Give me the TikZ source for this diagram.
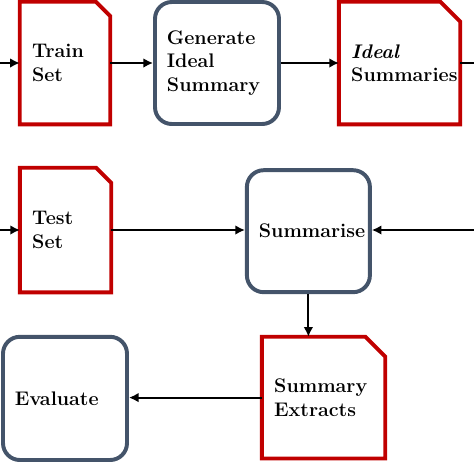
\documentclass[tikz,border=0pt]{standalone}
\usepackage{tikz}
\usetikzlibrary{arrows.meta}

\definecolor{docred}{HTML}{C00000}
\definecolor{procgray}{HTML}{44546A}

\begin{document}
\begin{tikzpicture}[scale=1,
        doc/.style={rectangle, inner xsep=0.3cm, inner ysep=0pt, align=left,
            font=\fontsize{14}{16.5}\selectfont\bfseries},
        proc/.style={rectangle, rounded corners=0.42cm, draw=procgray, line width=2.8pt,
            inner xsep=0.3cm, inner ysep=0pt, align=left,
            font=\fontsize{14}{16.5}\selectfont\bfseries},
        flecha/.style={-{Latex[length=0.24cm, width=0.24cm]}, line width=1.3pt}]

        \useasboundingbox (0,0) rectangle (11.85,-11.85);

        % Documentos
        \node[doc, text width=1.65cm, minimum width=2.25cm, minimum height=3.05cm] (train) at (1.625,-1.575) {Train\\Set};
        \node[doc, text width=2.42cm, minimum width=3.02cm, minimum height=3.05cm] (ideal) at (9.99,-1.575) {\textit{Ideal}\\Summaries};
        \node[doc, text width=1.67cm, minimum width=2.27cm, minimum height=3.1cm] (test) at (1.64,-5.75) {Test\\Set};
        \node[doc, text width=2.47cm, minimum width=3.07cm, minimum height=3.03cm] (extr) at (8.09,-9.94) {Summary\\Extracts};

        % Contorno con esquina cortada
        \foreach \n/\c in {train/0.36, ideal/0.5, test/0.38, extr/0.5}
            \draw[docred, line width=2.8pt] (\n.south west) -- (\n.north west)
                -- ([xshift=-\c cm]\n.north east) -- ([yshift=-\c cm]\n.north east)
                -- (\n.south east) -- cycle;

        % Procesos
        \node[proc, text width=2.5cm, minimum width=3.1cm, minimum height=3.05cm] (gen) at (5.425,-1.575) {Generate\\Ideal\\Summary};
        \node[proc, text width=2.475cm, minimum width=3.075cm, minimum height=3.05cm] (summ) at (7.71,-5.78) {Summarise};
        \node[proc, text width=2.5cm, minimum width=3.1cm, minimum height=3.08cm] (eval) at (1.625,-9.96) {Evaluate};

        % Extremos libres
        \coordinate (inA) at (0,-1.575);
        \coordinate (outA) at (11.85,-1.575);
        \coordinate (inB) at (0,-5.75);
        \coordinate (inC) at (11.85,-5.75);

        % Flechas
        \draw[flecha] (inA) -- (train);
        \draw[flecha] (train) -- (gen);
        \draw[flecha] (gen) -- (ideal);
        \draw[line width=1.3pt] (ideal) -- (outA);
        \draw[flecha] (inB) -- (test);
        \draw[flecha] (test.east) -- (test.east -| summ.west);
        \draw[flecha] (inC) -- (inC -| summ.east);
        \draw[flecha] (summ.south) -- (summ.south |- extr.north);
        \draw[flecha] (extr.west) -- (extr.west -| eval.east);
    \end{tikzpicture}
\end{document}
